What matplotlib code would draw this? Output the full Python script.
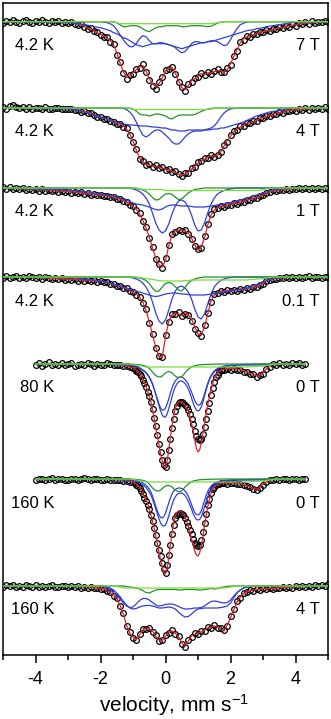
import numpy as np
import matplotlib
matplotlib.use("Agg")
import matplotlib.pyplot as plt
from matplotlib.ticker import MultipleLocator

plt.rcParams["font.family"] = ["Liberation Sans", "DejaVu Sans"]
plt.rcParams["mathtext.default"] = "regular"
plt.rcParams["axes.unicode_minus"] = False

# ---------------------------------------------------------------------------
# Velocity channels (mm/s)
# ---------------------------------------------------------------------------
V_WIDE = np.round(np.linspace(-5.0, 5.0, 101), 2)          # 4.2 K and 160 K / 4 T runs
V_SUB = np.round(np.linspace(-3.0, 4.0, 71), 2)            # sub-spectra of the field runs
V_ZERO = np.round(np.concatenate([np.linspace(-4.0, -1.1, 30),
                                  np.linspace(-1.0, 1.75, 56),
                                  np.linspace(1.8, 4.3, 26)]), 2)  # zero-field runs

# Absorption (arb. units, positive = more absorption)

# ---- 4.2 K, 7 T -----------------------------------------------------------
DATA_7T = [1, -1, 0.5, -1.5, 0, 1, -0.5, -2, 0.5, 1.5, -1, 0, -1.5, 0.5, 1, -0.5, 0, -1, 1, 0.5,
           1.5, 0, 2, 3, 2.5, 5, 7, 6.5, 9.5, 10,
           13, 15, 15, 20, 22, 33, 40, 51, 57, 53,
           52, 47, 46, 42, 50, 58, 64, 67, 60, 55,
           48, 47, 45, 52, 60, 65, 69, 62, 60, 56,
           55, 51, 53, 50, 52, 49, 47, 50, 50, 46,
           43, 34, 29, 20, 18, 14, 15, 12, 12.5, 10,
           10.5, 8, 9.5, 7, 7.5, 5, 6.5, 4, 5, 2.5,
           4, 1.5, 2.5, 0.5, 2, -0.5, 1, 0, 0.5, -1,
           0.5]
FIT_7T = [0] * 20 + [
    0.5, 0.8, 1.2, 2, 3, 4.5, 6, 7.5, 9, 11,
    12.5, 14, 16, 19, 23, 31, 41, 50, 55, 54,
    51, 48, 45, 44, 49, 57, 62, 65, 62, 56,
    49, 46, 46, 51, 59, 66, 68, 64, 59, 57,
    54, 52, 52, 52, 51, 50, 49, 49, 51, 48,
    42, 35, 28, 21, 17, 15, 14, 13, 12, 11,
    10, 9, 8.5, 8, 7, 6, 5.5, 5, 4, 3.5,
    3, 2.5, 2, 1.5, 1.2, 1, 0.8, 0.5, 0.3, 0.1,
    0]
SITE1_7T = [0] * 11 + [
    0.5, 1, 2, 4, 8, 13, 18, 22, 25, 25,
    22, 17, 14, 15, 19, 22, 22, 21, 21, 22,
    23, 24, 26, 29, 31, 30, 26, 22, 20, 20,
    21, 21, 20, 19, 19, 20, 22, 24, 23, 18,
    12, 7, 3, 1.5, 0.5] + [0] * 15
SITE2_7T = [0.5, 1, 1.5, 2, 2.5, 3, 3.5, 4, 5, 5.5,
            6, 7, 8, 9, 11, 12, 14, 16, 17, 19,
            21, 23, 24, 25, 24, 23, 22, 22, 22, 22,
            22, 23, 24, 25, 26, 27, 26, 25, 24, 23,
            22, 21, 21, 20, 20, 19, 18, 17, 16, 15,
            14, 13, 12, 11, 10, 9, 8.5, 8, 7, 6.5,
            6, 5, 4.5, 4, 3.5, 3, 2.5, 2, 1.5, 1,
            0.5]
SITE3_7T = [0] * 15 + [
    1, 3, 5, 5, 4, 4, 4, 5, 7, 9,
    10, 8, 6, 5, 5, 4, 4, 4, 4, 4,
    5, 5, 4.5, 4, 4, 4, 4, 4.5, 5, 4.5,
    3, 1.5, 0.5] + [0] * 23
SITE4_7T = [0] * 14 + [0.5, 1] + [2] * 29 + [1.5, 1, 0.5] + [0] * 23

# ---- 4.2 K, 4 T -----------------------------------------------------------
DATA_4T = [-1, 0.5, -2.5, -3, -1.5, 0, -1, 0.5, -1, 1, 0, -0.5, 1, -1, 0.5, 1, 0, -0.5, 0.5, 1,
           1, 0.5, 2, 1.5, 3.5, 2.5, 5, 4.5, 7, 8.5,
           8.5, 11, 10.5, 13, 13.5, 16, 15.5, 19, 20, 27,
           34, 41, 51, 53, 57, 56, 59, 57, 60, 59,
           62, 61, 64, 63, 66, 68, 65, 65, 60, 59,
           54, 53, 50, 50, 47, 49, 47, 44, 37, 34,
           27, 23, 22, 18, 18, 15, 15, 13, 12.5, 10,
           10, 7.5, 7.5, 5.5, 5.5, 4, 4.5, 2.5, 3, 1.5,
           2.5, 1, 2, 0, 1.5, -0.5, 1, 0, 0.5, -1,
           0.5]
FIT_4T = [0] * 20 + [
    0.5, 1, 1.5, 2, 2.5, 3, 4, 5, 6.5, 8,
    9, 10, 11, 12.5, 14, 15, 16, 18, 21, 26,
    33, 42, 50, 54, 56, 57, 58, 58, 59, 60,
    61, 62, 63, 64, 66, 67, 66, 64, 61, 58,
    55, 53, 51, 49, 48, 48, 47, 44, 38, 33,
    28, 24, 21, 19, 17, 15.5, 14.5, 13.5, 12, 10.5,
    9.5, 8, 7, 6, 5, 4.5, 4, 3, 2.5, 2,
    1.7, 1.4, 1.2, 1, 0.8, 0.6, 0.4, 0.3, 0.2, 0.1,
    0]
SITE1_4T = [0] * 17 + [
    0.5, 1.5, 4, 8, 14, 21, 27, 29, 27, 24,
    22, 22, 24, 27, 30, 34, 36, 36, 33, 29,
    26, 24, 23, 23, 23, 22, 21, 20, 18, 14,
    9, 5, 2.5, 1, 0.5] + [0] * 19
SITE2_4T = [1, 1.5, 2, 2.5, 3, 4, 5, 6, 7, 8,
            9, 10, 11, 12, 13, 14, 15, 16, 16.5, 17,
            17, 17.5, 18, 18, 18, 18.5, 19, 19, 19.5, 20,
            20, 21, 22, 22, 23, 23, 23, 22, 22, 22,
            22, 22, 22, 22, 21.5, 21, 21, 20, 20, 19,
            18, 17, 16, 15, 14, 12.5, 11, 9.5, 8, 7,
            6, 5, 4, 3.5, 3, 2.5, 2, 1.5, 1, 0.5,
            0.3]
SITE3_4T = [0] * 20 + [
    1, 3, 6, 7, 7, 8, 7, 6, 6, 7,
    8, 10, 11, 9, 7.5, 7, 7, 7, 7, 6.5,
    5, 3.5, 2, 1, 0.5] + [0] * 26
SITE4_4T = [0] * 19 + [0.5] + [1.5] * 24 + [1, 0.5] + [0] * 25

# ---- 4.2 K, 1 T -----------------------------------------------------------
DATA_1T = [-1, 0.5, -1.5, 1, -0.5, 1, 0, 1.5, 0.5, 2,
           1, 2.5, 1, 3, 1.5, 3, 2, 3.5, 2.5, 4,
           3, 4.5, 3.5, 5, 4, 5.5, 5, 6.5, 5.5, 7,
           6.5, 8, 7.5, 9, 8.5, 10.5, 10.5, 13, 13.5, 16.5,
           17.5, 22, 25, 33, 39, 50, 59, 71, 76, 80,
           70, 57, 46, 44, 42, 43, 42, 46, 51, 58,
           61, 60, 48, 36, 26, 21, 20, 18, 18.5, 16.5,
           16.5, 15, 15.5, 13.5, 13.5, 11.5, 11.5, 9.5, 9.5, 7.5,
           7, 5, 3.5, 2, 3, 1.5, 2, 0.5, 1.5, 0.5,
           1, 0, 1, -0.5, 0.5, 0, 0.5, -0.5, 0.5, 0,
           0.5]
FIT_1T = [0, 0, 0, 0, 0.2, 0.4, 0.6, 0.8, 1, 1.2,
          1.4, 1.6, 1.8, 2, 2.2, 2.4, 2.6, 2.8, 3, 3.2,
          3.4, 3.7, 4, 4.3, 4.6, 5, 5.4, 5.8, 6.2, 6.6,
          7, 7.5, 8, 8.5, 9, 10, 11, 12.5, 14, 16,
          18, 21, 26, 32, 40, 49, 60, 70, 77, 79,
          72, 58, 47, 43, 42, 42, 43, 45, 50, 57,
          62, 59, 50, 37, 27, 22, 19.5, 18.5, 18, 17,
          16, 15.5, 15, 14, 13, 12, 11, 10, 9, 8,
          7, 5.5, 4, 3, 2.5, 2, 1.5, 1.2, 1, 0.8,
          0.6, 0.5, 0.4, 0.3, 0.2, 0.1, 0, 0, 0, 0,
          0]
SITE1_1T = [0] * 20 + [
    1, 2, 3.5, 6, 10, 16, 25, 35, 42, 45,
    43, 36, 26, 18, 13, 12, 14, 19, 27, 37,
    43, 42, 35, 25, 16, 10, 6, 4, 2.5, 1.5,
    1, 0.5] + [0] * 19
SITE2_1T = [2, 2.3, 2.6, 3, 3.3, 3.7, 4, 4.5, 5, 5.5,
            6, 6.5, 7, 7.5, 8, 9, 10, 11, 12, 13.5,
            15, 16, 16.5, 17, 18, 19, 20.5, 21.5, 22, 21,
            19, 17.5, 17, 17, 17.5, 18, 18, 18, 18.5, 19,
            19, 19, 19, 18.5, 18, 17.5, 17, 16.5, 16, 15,
            14.5, 14, 13, 12, 11, 10, 9, 8, 7, 6,
            5, 4, 3, 2, 1.5, 1, 0.7, 0.5, 0.3, 0.2,
            0]
SITE3_1T = [0] * 21 + [
    0.5, 1, 2, 3.5, 6, 9.5, 12, 11.5, 8.5, 6,
    5.5, 6.5, 9, 11.5, 11, 8, 5, 3, 1.5, 1,
    0.5] + [0] * 29
SITE4_1T = [0] * 22 + [0.5] + [1.5] * 7 + [2.5] * 30 + [1.5, 1, 0.5] + [0] * 8

# ---- 4.2 K, 0.1 T ---------------------------------------------------------
DATA_01T = [0.5, -1, 1, 0, -1.5, 0.5, -0.5, 1, -1, 0,
            1, -0.5, 1.5, 0, 1, 2, 0.5, 2, 1, 2.5,
            1.5, 3, 2, 3.5, 2, 4, 2.5, 4, 3, 4.5,
            3.5, 5, 5, 7, 7, 9, 9, 11, 11, 13.5,
            14.5, 18, 19.5, 26, 32, 46, 57, 71, 79, 80,
            58, 45, 37, 37, 35, 39, 37, 38, 44, 52,
            56, 59, 48, 36, 25, 17, 16, 14, 14.5, 13,
            14, 12.5, 13.5, 12, 12.5, 11, 11.5, 10, 10, 7.5,
            6.5, 3.5, 3, 1.5, 1.5, 0.5, 1, 0, 1, -0.5,
            0.5, -0.5, 0.5, 0, -1, 0.5, 0, -0.5, 1, 0,
            -0.5]
FIT_01T = [0] * 10 + [
    0.2, 0.4, 0.6, 0.8, 1, 1.2, 1.4, 1.6, 1.8, 1.9,
    2, 2.2, 2.4, 2.6, 2.8, 3, 3.2, 3.4, 3.6, 3.8,
    4, 4.5, 5.5, 6.5, 7.5, 8.5, 9.5, 10.5, 11.5, 13,
    15, 17, 20, 25, 33, 45, 58, 70, 80, 80,
    60, 44, 38, 36, 37.5, 38, 36, 37.5, 42, 50,
    57, 58, 50, 37, 24, 18, 15.5, 14.5, 14, 13.5,
    13.2, 13, 12.8, 12.5, 12, 11.5, 11, 10.5, 9.5, 8,
    6, 4, 2.5, 1.8, 1.2, 1, 0.8, 0.6, 0.4, 0.3,
    0.2, 0.1, 0, 0, 0, 0, 0, 0, 0, 0,
    0]
SITE1_01T = [0] * 20 + [
    1, 2, 3.5, 6, 10, 16, 25, 36, 44, 47,
    43, 33, 22, 14, 10, 9, 11, 15, 22, 32,
    40, 42, 37, 27, 17, 10, 6, 3.5, 2, 1,
    0.5] + [0] * 20
SITE2_01T = [0.5, 0.7, 1, 1.2, 1.5, 1.8, 2.2, 2.6, 3, 3.5,
             4, 4.5, 5, 6, 7, 8, 9, 10, 11, 12,
             13, 14, 15, 16, 17, 18, 19, 19.5, 19, 18,
             17, 16.5, 16, 16, 16.5, 17, 17, 17.5, 18, 18,
             18, 18, 18, 17.5, 17, 16.5, 16, 15.5, 15, 14.5,
             14, 13.5, 13, 12, 11.5, 11, 10, 9, 8, 6.5,
             5, 3.5, 2.5, 1.5, 1, 0.5, 0, 0, 0, 0,
             0]
SITE3_01T = [0] * 21 + [
    0.5, 1, 2, 3.5, 6.5, 11, 14.5, 14, 10, 6.5,
    5.5, 6.5, 9.5, 13, 14, 10.5, 6, 3.5, 2, 1,
    0.5] + [0] * 29
SITE4_01T = ([0] * 22 + [0.5, 1, 1.5, 2, 2.5, 3, 3.5, 4, 4, 4, 4, 4, 4, 4, 3.5, 3.5, 3, 3]
             + [3] * 16 + [2.5, 2.5, 2, 2, 1.5, 1, 0.5] + [0] * 8)

# ---- 80 K, 0 T ------------------------------------------------------------
DATA_80K = [0.5, -1, 1.5, 0, -2, 1, -0.5, 0.5, -1.5, 1,
            0, -1, 2, 0.5, -0.5, 1, -1, 0, 1.5, -0.5,
            0.5, 1, -1, 0, 1, 0.5, 1, 2, 1.5, 3,
            4, 5, 7, 8, 10, 12, 16, 19, 23, 28,
            32, 38, 45, 54, 62, 71, 80, 88, 96, 101,
            103, 96, 86, 75, 64, 55, 47, 42, 39, 38,
            38, 39, 41, 43, 46, 50, 55, 60, 67, 72,
            75, 76, 75, 70, 63, 55, 47, 39, 31, 24,
            18, 13, 11, 8, 6, 6,
            5.5, 4.5, 5.5, 4.5, 6, 5.5, 7.5, 7.5, 9.5, 10,
            12.5, 11, 9.5, 4.5, 2.5, 0, 0.5, -1, 0.5, -0.5,
            1, -1, 0, -1.5, 0.5, -0.5]
FIT_80K = [0] * 25 + [0.5, 1, 1.5, 2, 3] + [
    3.5, 4.5, 6, 7.5, 9.5, 12, 15, 18.5, 22.5, 27,
    32, 38, 45, 54, 63, 72, 81, 90, 97, 102,
    103, 97, 86, 74, 62, 52, 45, 40, 38, 37.5,
    38, 39.5, 41.5, 44, 47, 52, 59, 67, 76, 84,
    88, 86, 79, 70, 60, 50, 41, 33, 26, 20,
    15, 11, 8.5, 7, 6, 5.5] + [
    5, 4.5, 4.5, 4.5, 5, 5.5, 6.5, 7.5, 9, 10.5,
    11.5, 11, 8.5, 5, 2, 0.5] + [0] * 10
SITE1_80K = [0] * 21 + [0.2, 0.3, 0.4, 0.5, 0.6, 0.7, 0.9, 1.0, 1.2] + [
    1.5, 2, 2.5, 3, 4, 5, 6, 7.5, 9, 11,
    13.5, 16.5, 20, 25, 30, 36, 42, 47, 51, 53,
    53, 50, 45, 39, 33, 27, 23, 20, 18, 17,
    17, 18, 19.5, 22, 25, 29, 34, 39, 43, 46,
    47, 46, 43, 38, 32, 26, 20.5, 16, 12.5, 10,
    8, 6.5, 5, 4, 3.5, 3] + [
    2.5, 2, 1.5, 1.2, 1, 0.8, 0.6, 0.5, 0.4, 0.3, 0.2, 0.1] + [0] * 14
SITE2_80K = [0] * 21 + [0.2, 0.3, 0.4, 0.5, 0.6, 0.7, 0.9, 1.0, 1.2] + [
    1.5, 2, 2.5, 3, 3.8, 4.7, 5.8, 7, 8.5, 10.5,
    13, 16, 20, 25, 30, 35, 40, 44, 46, 46,
    44, 40, 35, 29, 24, 20, 17, 15, 13.5, 13,
    13, 14, 15.5, 17.5, 20, 24, 28, 32.5, 36.5, 39.5,
    41, 41, 39, 35, 30, 24.5, 19.5, 15, 11.5, 9,
    7, 5.5, 4.5, 3.5, 3, 2.5] + [
    2, 1.6, 1.3, 1.1, 1, 1, 1, 1, 1, 1, 1, 1, 1, 1, 0.8, 0.5, 0.2] + [0] * 9
SITE3_80K = [0] * 30 + [
    0.3, 0.4, 0.5, 0.6, 0.8, 1, 1.3, 1.7, 2.3, 3.2,
    4.5, 6, 8, 10, 11.5, 12.5, 13, 13, 12, 10.5,
    9, 8, 7.5, 8, 9, 10.5, 12, 13, 13.5, 13.5,
    12.5, 11, 9, 7, 5.5, 4, 3, 2.3, 1.8, 1.4,
    1.1, 0.9, 0.7, 0.6, 0.5, 0.4, 0.35, 0.3, 0.25, 0.2,
    0.2, 0.15, 0.1, 0.1, 0.1, 0] + [0] * 26
SITE4_80K = ([0] * 30 + [0.5, 0.8, 1, 1.3, 1.6, 2, 2.3, 2.6, 3] + [3] * 47
             + [3] * 8 + [2.8, 2.6, 2.4, 2.2, 2, 1.5, 1, 0.5] + [0] * 10)

# ---- 160 K, 0 T -----------------------------------------------------------
DATA_160K = [0.5, 0, -0.5, 1, 0, -1, 0.5, 0, -0.5, 0.5,
             1, 0, -0.5, 0.5, 0, -1, 0, 0.5, -0.5, 0,
             1, 0.5, 0, 0.5, 1, 0.5, 1, 1.5, 1.5, 2.5,
             3, 4, 5.5, 7, 9, 12, 15, 19, 22, 26,
             30, 36, 42, 49, 56, 64, 71, 77, 84, 90,
             94, 86, 76, 66, 55, 46, 39, 36, 34.5, 34,
             34.5, 36, 39, 43, 47, 51, 55, 60, 64, 66,
             67, 66, 61, 53, 44, 35, 26, 20, 14, 10,
             7.5, 6, 5, 4.5, 4, 4,
             4, 4.5, 4, 3.5, 4.5, 5, 5.5, 6.5, 8, 10,
             11, 9, 6, 3, 1, 0.5, 0, 0.5, -0.5, 0,
             0.5, 0, -0.5, 0.5, 0, 0]
FIT_160K = [0] * 24 + [0.2, 0.4, 0.7, 1.1, 1.6, 2.2] + [
    3, 4, 5, 6.5, 8.5, 11, 14, 17.5, 21, 25,
    30, 36, 42, 49, 57, 65, 73, 81, 88, 93,
    95, 90, 79, 66, 54, 44, 37, 33.5, 32, 32,
    33, 35, 38, 42, 47, 53, 59, 66, 72, 76,
    77, 74, 67, 58, 47, 37, 28, 20, 14.5, 10.5,
    8, 6.5, 5.5, 5, 4.5, 4.2] + [
    4, 4, 4, 4, 4.3, 4.8, 5.5, 6.5, 8, 9.5,
    10, 8.5, 5.5, 3, 1.2, 0.5] + [0] * 10
SITE1_160K = [0] * 21 + [0.2, 0.3, 0.4, 0.5, 0.6, 0.7, 0.8, 0.9, 1.1] + [
    1.5, 2, 2.5, 3, 3.8, 4.7, 5.8, 7, 8.5, 10.5,
    13, 16, 20, 25, 30, 35, 40, 44, 46.5, 47,
    46, 42, 37, 31, 26, 21, 18, 15.5, 14.5, 14,
    14, 15, 16.5, 19, 22, 26, 30, 34.5, 38, 40.5,
    41, 40.5, 38, 33.5, 28, 22.5, 17.5, 13.5, 10.5, 8,
    6.5, 5, 4, 3.3, 2.8, 2.4] + [
    2.1, 1.6, 1.3, 1.1, 0.9, 0.8, 0.7, 0.6, 0.5, 0.4, 0.35, 0.3, 0.25, 0.2, 0.15, 0.1] + [0] * 10
SITE2_160K = [0] * 21 + [0.2, 0.3, 0.4, 0.5, 0.6, 0.7, 0.8, 0.9, 1.0] + [
    1.2, 1.5, 1.8, 2.2, 2.7, 3.3, 4, 5, 6.2, 7.8,
    10, 13, 17, 22, 27, 32, 36, 38.5, 39, 37.5,
    34, 29, 24, 19, 15, 12, 10.5, 9.5, 9, 9,
    9.5, 10.5, 12, 14, 17, 21, 25.5, 30, 33.5, 35.5,
    36, 35, 32, 27, 21.5, 16.5, 12.5, 9.5, 7.3, 5.7,
    4.5, 3.6, 3, 2.5, 2.1, 1.8] + [
    1.6, 1.3, 1.1, 1, 1, 1, 1, 1, 1, 1, 1, 1, 1, 0.8, 0.5, 0.2] + [0] * 10
SITE3_160K = [0] * 30 + [
    0.3, 0.4, 0.5, 0.6, 0.8, 1, 1.3, 1.8, 2.5, 3.5,
    5, 7, 9, 10.5, 11.5, 12, 12, 11, 9.5, 8,
    7, 6.5, 6.5, 7, 8, 9.5, 11, 12, 12.5, 12.5,
    11.5, 10, 8, 6.5, 5, 3.8, 2.8, 2.1, 1.6, 1.3,
    1, 0.8, 0.7, 0.6, 0.5, 0.4, 0.35, 0.3, 0.25, 0.2,
    0.2, 0.15, 0.1, 0.1, 0.1, 0] + [0] * 26
SITE4_160K = ([0] * 30 + [0.5, 0.8, 1, 1.3, 1.6, 2, 2.3, 2.6, 3] + [3] * 47
              + [3] * 8 + [2.8, 2.6, 2.4, 2.2, 2, 1.5, 1, 0.5] + [0] * 10)

# ---- 160 K, 4 T -----------------------------------------------------------
DATA_160K4T = [0.5, -1.5, 0, -1, 1, -0.5, 0.5, -1.5, 0, 1,
               -1, 0.5, -0.5, 1, 0, -1, 0.5, 1, -0.5, 0,
               1, -0.5, 1, 0, 1.5, 0.5, 2, 1, 2, 1.5,
               3, 2.5, 5, 6, 10, 12, 20, 27, 40, 46,
               52, 54, 48, 43, 43, 42, 46, 49, 55, 54,
               49, 47, 44, 48, 50, 58, 61, 54, 51, 47,
               48, 45, 45, 41, 42, 39, 42, 42, 44, 40,
               30, 23, 15, 12, 7, 6, 4, 5, 3, 3.5,
               2, 3, 1.5, 2.5, 1.5, 2, 1, 2, 0.5, 1.5,
               0, 1, 0, 0.5, -0.5, 1, -1, 0, -1.5, -0.5,
               -2]
FIT_160K4T = [0] * 20 + [
    0.2, 0.3, 0.4, 0.5, 0.6, 0.8, 1, 1.2, 1.5, 2,
    2.5, 3, 4.5, 6.5, 9, 12.5, 19, 28, 39, 47,
    51, 53, 49, 44, 42, 42.5, 45, 50, 54, 55,
    50, 46, 45, 47, 51, 57, 60, 55, 50, 48,
    47, 46, 44, 42, 41, 40, 41, 43.5, 45, 39,
    32, 24, 16, 11, 7.5, 5.5, 4.5, 4, 3.5, 3,
    2.8, 2.6, 2.4, 2.2, 2, 1.8, 1.6, 1.4, 1.2, 1,
    0.8, 0.7, 0.6, 0.5, 0.4, 0.3, 0.2, 0.1, 0, 0,
    0]
SITE1_160K4T = [0] * 12 + [
    1, 2, 4, 7, 11, 15, 19, 22, 23, 22.5,
    21, 20, 19.5, 19.5, 20, 21, 22, 22, 21.5, 21,
    21.5, 23, 26, 29, 31, 30.5, 28, 25, 23, 22.5,
    22, 22, 22, 22, 22, 21.5, 21, 20, 17, 12,
    7, 4, 2, 1, 0.5] + [0] * 14
SITE2_160K4T = [0] * 11 + [
    1, 2, 4, 6.5, 9.5, 13, 17, 20, 21.5, 21,
    18, 14.5, 12.5, 12.5, 14, 16.5, 19, 20, 19.5, 18.5,
    18, 18, 19, 20.5, 22, 23, 23, 22.5, 22, 22,
    21.5, 20, 17.5, 15.5, 15, 15.5, 16.5, 17, 16.5, 14,
    10, 6.5, 4, 2, 1, 0.5] + [0] * 14
SITE3_160K4T = [0] * 18 + [
    0.5, 1, 1.5, 2, 3, 4.5, 6.5, 7, 5.5, 4,
    3.5, 3.5, 3.5, 3.5, 3.5, 3.5, 4, 4, 3.5, 3.5,
    3.5, 3.5, 4, 4, 3.5, 3, 2.5, 3, 2.5, 1.5,
    0.8, 0.4] + [0] * 21
SITE4_160K4T = [0] * 15 + [0.5, 1] + [2] * 32 + [1.5, 1, 0.5] + [0] * 19

LEFT_LABELS = ["4.2 K", "4.2 K", "4.2 K", "4.2 K", "80 K", "160 K", "160 K"]
RIGHT_LABELS = ["7 T", "4 T", "1 T", "0.1 T", "0 T", "0 T", "4 T"]

# ---------------------------------------------------------------------------
# Stacking and styles
# ---------------------------------------------------------------------------
BASELINES = [633.3, 547, 467, 378, 291, 176, 69]
RED, BLUE, DKGREEN, LTGREEN = "#e0202a", "#3040d4", "#25902a", "#78dc3a"

spectra = [
    (V_WIDE, DATA_7T, FIT_7T, V_SUB, [SITE1_7T, SITE2_7T, SITE3_7T, SITE4_7T]),
    (V_WIDE, DATA_4T, FIT_4T, V_SUB, [SITE1_4T, SITE2_4T, SITE3_4T, SITE4_4T]),
    (V_WIDE, DATA_1T, FIT_1T, V_SUB, [SITE1_1T, SITE2_1T, SITE3_1T, SITE4_1T]),
    (V_WIDE, DATA_01T, FIT_01T, V_SUB, [SITE1_01T, SITE2_01T, SITE3_01T, SITE4_01T]),
    (V_ZERO, DATA_80K, FIT_80K, V_ZERO, [SITE1_80K, SITE2_80K, SITE3_80K, SITE4_80K]),
    (V_ZERO, DATA_160K, FIT_160K, V_ZERO, [SITE1_160K, SITE2_160K, SITE3_160K, SITE4_160K]),
    (V_WIDE, DATA_160K4T, FIT_160K4T, V_SUB,
     [SITE1_160K4T, SITE2_160K4T, SITE3_160K4T, SITE4_160K4T]),
]

fig = plt.figure(figsize=(3.31, 7.19), dpi=100)
ax = fig.add_axes([3 / 331, 64 / 719, 325 / 331, 652 / 719])

for (vd, data, fit, vc, comps), base, ltxt, rtxt in zip(spectra, BASELINES,
                                                      LEFT_LABELS, RIGHT_LABELS):
    data = np.asarray(data, float)
    fit = np.asarray(fit, float)
    ax.plot(vd, base - data, linestyle="none", marker="o", ms=4.1,
            mfc="none", mec="black", mew=0.9, zorder=2)
    ax.plot(vd, base - fit, color=RED, lw=0.9, zorder=3)
    padded = vc is V_SUB
    vv = np.concatenate([[-5.0], vc, [5.0]]) if padded else vc
    for comp, col in zip(comps, [BLUE, BLUE, DKGREEN, LTGREEN]):
        c = np.asarray(comp, float)
        if padded:
            c = np.concatenate([[0.0], c, [0.0]])
        ax.plot(vv, base - c, color=col, lw=0.9, zorder=4)
    ax.text(-3.43, base - 24, ltxt, ha="right", va="center", fontsize=12)
    ax.text(4.75, base - 24, rtxt, ha="right", va="center", fontsize=12)

ax.set_xlim(-5, 5)
ax.set_ylim(0, 652)
ax.set_yticks([])
ax.xaxis.set_major_locator(MultipleLocator(2))
ax.xaxis.set_minor_locator(MultipleLocator(1))
ax.tick_params(axis="x", which="major", direction="out", length=6, width=1.1,
               labelsize=13, pad=5.5)
ax.tick_params(axis="x", which="minor", direction="out", length=3.5, width=1.1)
for sp in ax.spines.values():
    sp.set_linewidth(1.1)
ax.set_xlabel("velocity, mm s$^{-1}$", fontsize=15)
ax.xaxis.set_label_coords(0.526, -0.0575)

fig.savefig("out.png", dpi=100)
